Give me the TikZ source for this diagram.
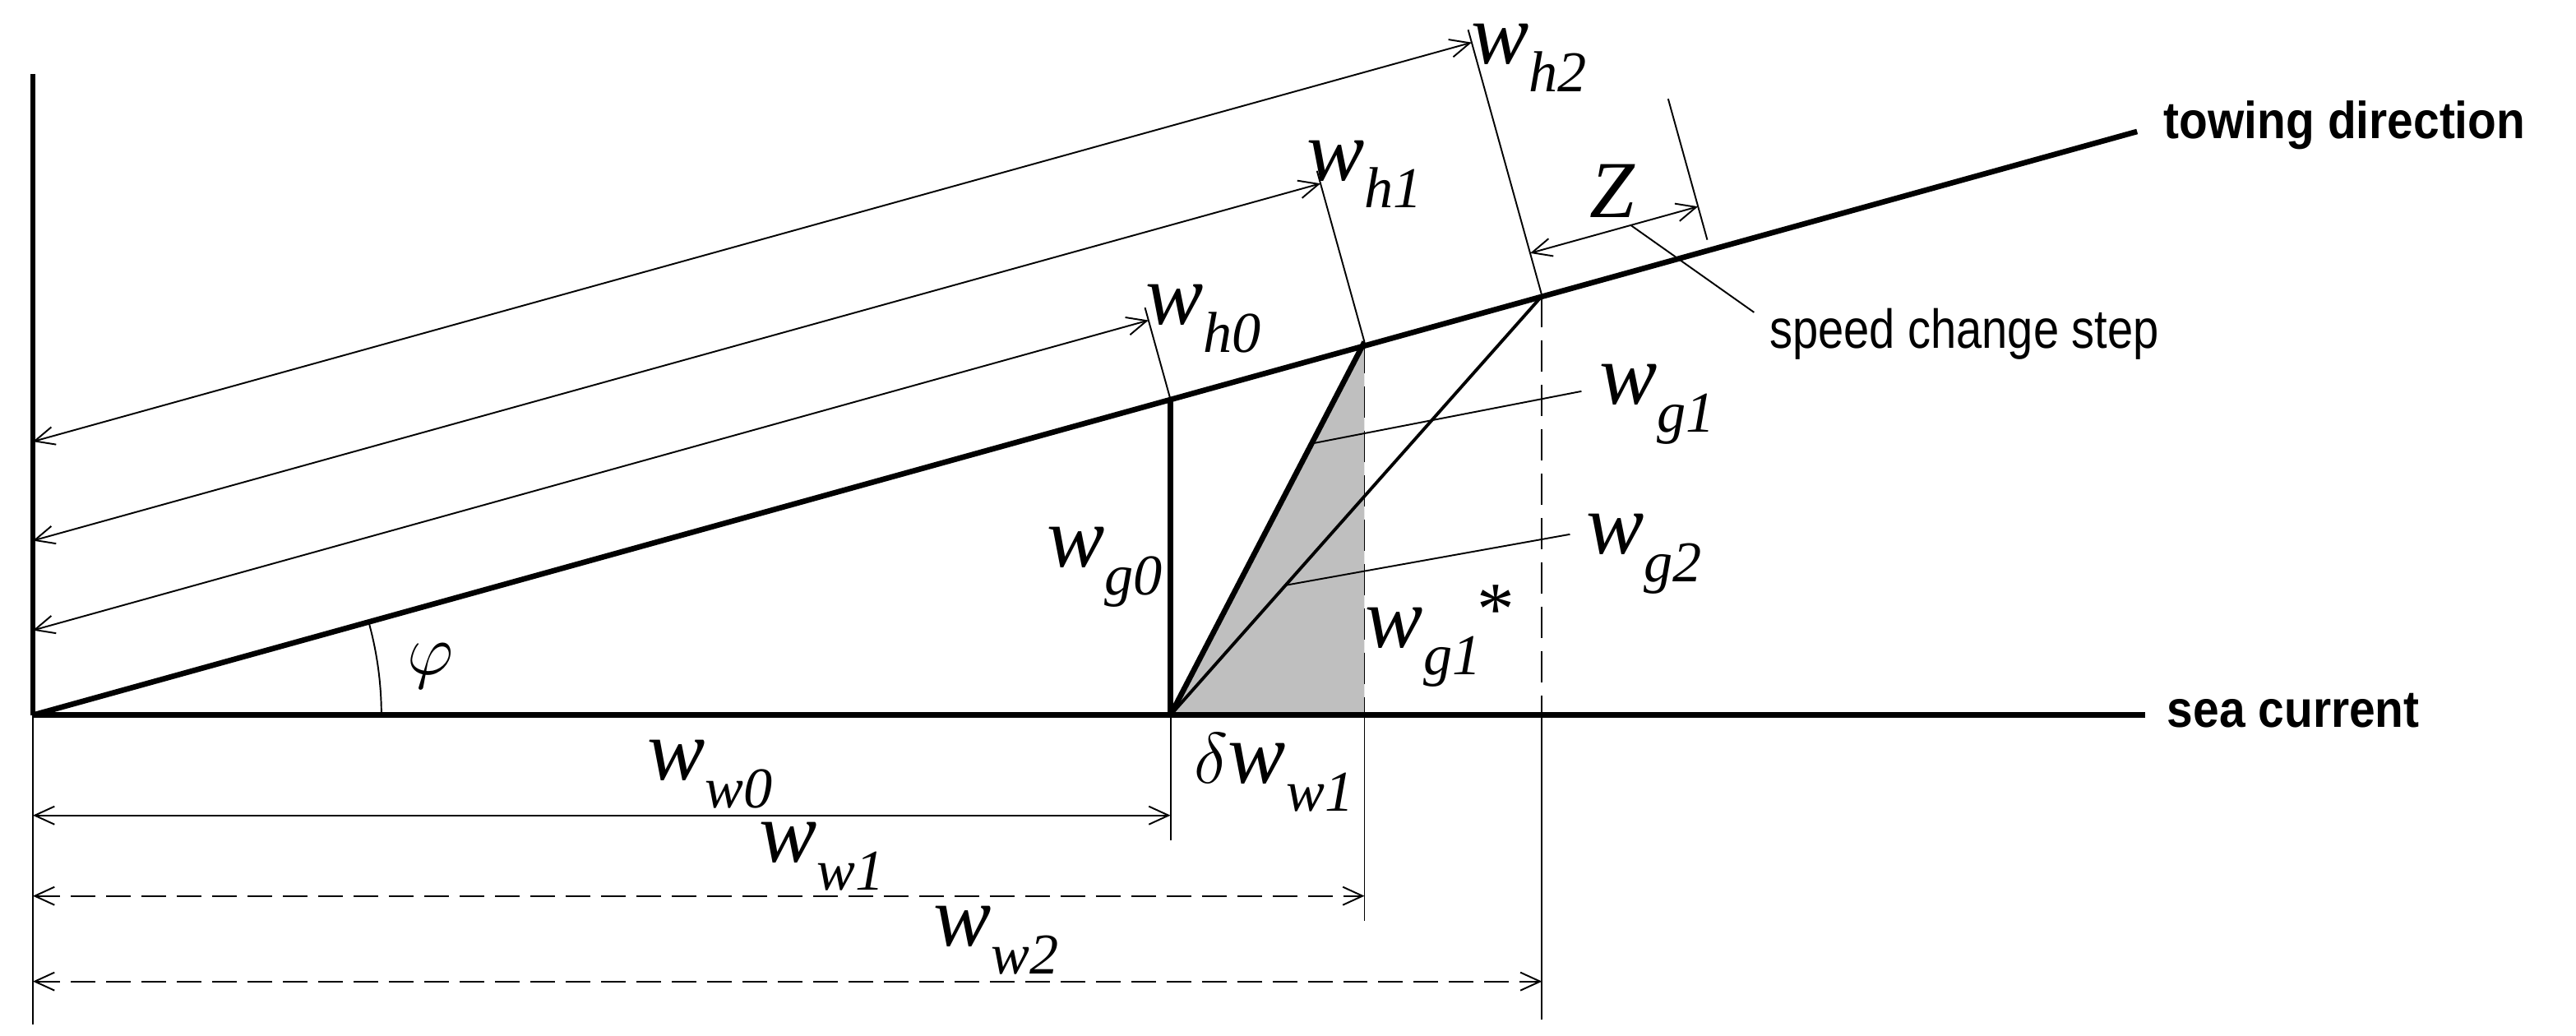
\documentclass[tikz,border=0pt]{standalone}
\usepackage{fontspec}
\setmainfont{Liberation Serif}
\setsansfont{Liberation Sans}
\usetikzlibrary{arrows.meta,calc}
\newcommand\wlab[2][]{\fontsize{30}{32}\selectfont#1\textit{w}\raisebox{-0.32em}{\fontsize{20}{22}\selectfont\textit{#2}}}
\begin{document}
\begin{tikzpicture}[x=0.02cm,y=-0.02cm,
  thickl/.style={line width=1.9pt},
  thinl/.style={line width=0.55pt},
  dimarr/.style={thinl,{Straight Barb[length=0.24cm,width=0.22cm]}-{Straight Barb[length=0.24cm,width=0.22cm]}},
  longdash/.style={dash pattern=on 0.3cm off 0.13cm},
  vdash/.style={dash pattern=on 0.38cm off 0.16cm},
  lab/.style={inner sep=0pt},
  txt/.style={font=\sffamily\fontsize{19}{21}\selectfont, inner sep=0pt}]
\useasboundingbox (0,0) rectangle (1567,630);
% key points
\coordinate (O) at (20,435);
\coordinate (Top) at (20,45);
\coordinate (Bot) at (20,623);
\coordinate (SeaEnd) at (1305,435);
\coordinate (TowEnd) at (1300,80);
\coordinate (A0) at (712,243);
\coordinate (B0) at (712,435);
\coordinate (A1) at (830,208);
\coordinate (B1) at (830,435);
\coordinate (A2) at (938,180);
\coordinate (B2) at (938,435);
% gray triangle
\fill[gray!50] (B0) -- (A1) -- (B1) -- cycle;
% axes
\draw[thickl] (Top) -- (O);
\draw[thinl] (O) -- (Bot);
\draw[thickl] (O) -- (SeaEnd);
\draw[thickl] (O) -- (TowEnd);
\draw[thickl] (B0) -- (A0);
\draw[thickl] (B0) -- (A1);
\draw[line width=1.1pt] (B0) -- (A2);
% verticals
\draw[thinl,vdash] (A1) -- (B1);
\draw[thinl,vdash] (A2) -- (B2);
\coordinate (E0) at (712,511);
\coordinate (E1) at (830,560);
\coordinate (E2) at (938,620);
\draw[thinl] (B0) -- (E0);
\draw[thinl] (B1) -- (E1);
\draw[thinl] (B2) -- (E2);
% horizontal dims
\coordinate (L0) at (20,496); \coordinate (R0) at (712,496);
\coordinate (L1) at (20,545); \coordinate (R1) at (830,545);
\coordinate (L2) at (20,597); \coordinate (R2) at (938,597);
\draw[dimarr] (L0) -- (R0);
\draw[dimarr,longdash] (L1) -- (R1);
\draw[dimarr,longdash] (L2) -- (R2);
% w_h extension lines (perpendicular to towing line)
\coordinate (H0t) at ($(A0)+(-0.2674*50,-0.9636*50)$);
\coordinate (H0e) at ($(A0)+(-0.2674*58,-0.9636*58)$);
\coordinate (H1t) at ($(A1)+(-0.2674*100,-0.9636*100)$);
\coordinate (H1e) at ($(A1)+(-0.2674*108,-0.9636*108)$);
\coordinate (H2t) at ($(A2)+(-0.2674*160,-0.9636*160)$);
\coordinate (H2e) at ($(A2)+(-0.2674*168,-0.9636*168)$);
\draw[thinl] (A0) -- (H0e);
\draw[thinl] (A1) -- (H1e);
\draw[thinl] (A2) -- (H2e);
\draw[dimarr] (20,{195+0.2775*679}) coordinate (H0L) -- (H0t);
\draw[dimarr] (20,{111.6+0.2775*783}) coordinate (H1L) -- (H1t);
\draw[dimarr] (20,{25.8+0.2775*875}) coordinate (H2L) -- (H2t);
% Z dimension
\coordinate (Zl) at ($(A2)+(-0.2674*27,-0.9636*27)$);
\coordinate (Q) at ($(A2)+(0.9636*106,-0.2674*106)$);
\coordinate (Zr) at ($(Q)+(-0.2674*27,-0.9636*27)$);
\coordinate (Qa) at ($(Q)+(-0.2674*6,-0.9636*6)$);
\coordinate (Qb) at ($(Q)+(-0.2674*95,-0.9636*95)$);
\draw[thinl] (Qa) -- (Qb);
\draw[dimarr] (Zl) -- (Zr);
\node[lab] (Z) at (981,116) {\fontsize{28}{30}\selectfont\textit{Z}};
% speed change step
\coordinate (S1) at (992,137);
\coordinate (S2) at (1067,190);
\draw[thinl] (S1) -- (S2);
\node[txt,anchor=west] (scs) at (1076,203) {\scalebox{0.84}[1]{speed change step}};
% leaders for w_g1, w_g2
\coordinate (G1a) at (797,270); \coordinate (G1b) at (962,238);
\coordinate (G2a) at (782,356); \coordinate (G2b) at (955,325);
\draw[thinl] (G1a) -- (G1b);
\draw[thinl] (G2a) -- (G2b);
% angle
\draw[thinl] (232,435) arc[start angle=0,end angle=-15.5,radius=212];
\node[lab] (phi) at (262,405) {\fontsize{28}{30}\selectfont$\varphi$};
% labels
\node[lab] (wh0) at (732,194) {\wlab{h0}};
\node[lab] (wh1) at (830,106) {\wlab{h1}};
\node[lab] (wh2) at (930,35) {\wlab{h2}};
\node[lab] (wg0) at (672,345) {\wlab{g0}};
\node[lab] (wg1) at (1008,246) {\wlab{g1}};
\node[lab] (wg2) at (1000,337) {\wlab{g2}};
\node[lab] (wg1s) at (876,387) {\wlab{g1}\kern-0.05em\raisebox{0.15em}{\fontsize{26}{26}\selectfont *}};
\node[lab] (dww1) at (775,470) {\wlab[$\delta$]{w1}};
\node[lab] (ww0) at (432,471) {\wlab{w0}};
\node[lab] (ww1) at (500,521) {\wlab{w1}};
\node[lab] (ww2) at (606,572) {\wlab{w2}};
\node[txt,anchor=west,font=\sffamily\bfseries\fontsize{18}{20}\selectfont] (tow) at (1316,76) {\scalebox{0.9}[1]{towing direction}};
\node[txt,anchor=west,font=\sffamily\bfseries\fontsize{18}{20}\selectfont] (sea) at (1318,432) {\scalebox{0.9}[1]{sea current}};
\end{tikzpicture}
\end{document}
